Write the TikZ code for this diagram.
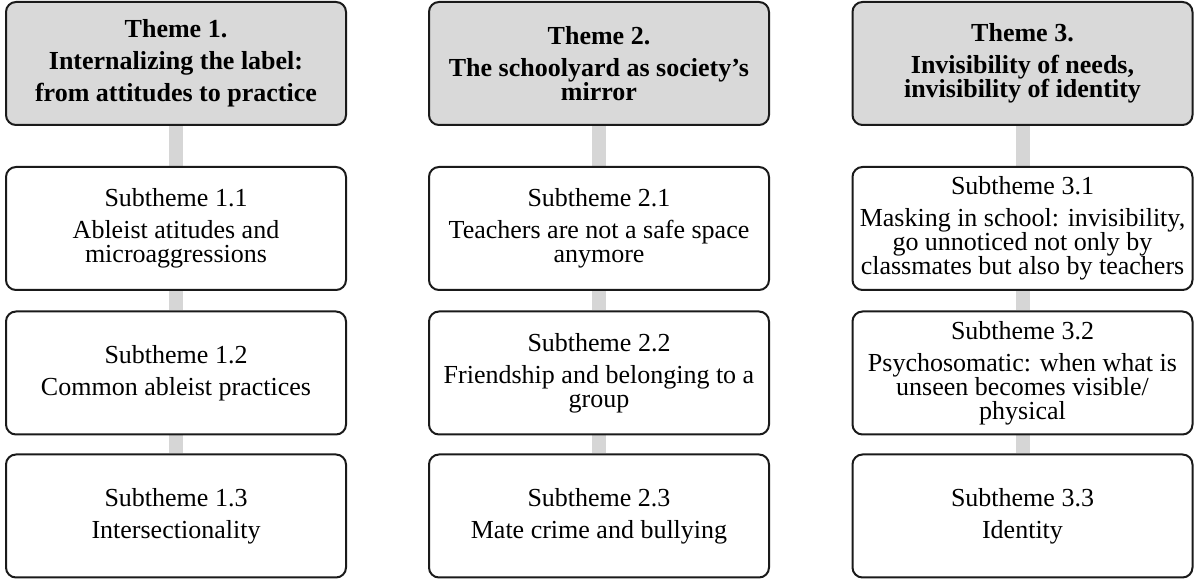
\documentclass[tikz,border=0pt]{standalone}
\usepackage{fontspec}
\setmainfont{Liberation Serif}
\usetikzlibrary{backgrounds}
\definecolor{boxgray}{HTML}{D9D9D9}
\definecolor{linkgray}{HTML}{D6D6D6}
\definecolor{edge}{HTML}{1A1A1A}
\begin{document}
\begin{tikzpicture}[x=0.5pt,y=-0.5pt,
  box/.style={draw=edge, line width=1pt, rounded corners=5pt,
    minimum width=170pt, minimum height=61.5pt, align=center, inner sep=0pt,
    fill=white, font=\fontsize{13}{12}\selectfont},
  themebox/.style={box, fill=boxgray, font=\fontsize{13}{12}\selectfont\bfseries},
  link/.style={draw=linkgray, line width=7pt}]
\useasboundingbox (0,0) rectangle (1200,582);
% column 1
\node[themebox] (t1) at (176,63.5) {Theme 1.\\[4pt]Internalizing the label:\\[3pt]from attitudes to practice};
\node[box] (s11) at (176,228.5) {Subtheme 1.1\\[4pt]Ableist atitudes and\\microaggressions};
\node[box] (s12) at (176,373) {Subtheme 1.2\\[4pt]Common ableist practices};
\node[box] (s13) at (176,516) {Subtheme 1.3\\[4pt]Intersectionality};
% column 2
\node[themebox] (t2) at (599,63.5) {Theme 2.\\[4pt]The schoolyard as society’s\\mirror};
\node[box] (s21) at (599,228.5) {Subtheme 2.1\\[4pt]Teachers are not a safe space\\anymore};
\node[box] (s22) at (599,373) {Subtheme 2.2\\[4pt]Friendship and belonging to a\\group};
\node[box] (s23) at (599,516) {Subtheme 2.3\\[4pt]Mate crime and bullying};
% column 3
\node[themebox] (t3) at (1022.5,63.5) {Theme 3.\\[4pt]Invisibility of needs,\\invisibility of identity};
\node[box] (s31) at (1022.5,228.5) {Subtheme 3.1\\[4pt]Masking in school: invisibility,\\go unnoticed not only by\\classmates but also by teachers};
\node[box] (s32) at (1022.5,373) {Subtheme 3.2\\[4pt]Psychosomatic: when what is\\unseen becomes visible/\\physical};
\node[box] (s33) at (1022.5,516) {Subtheme 3.3\\[4pt]Identity};
% connectors
\begin{scope}[on background layer]
\draw[link] (t1.south) -- (s11.north);
\draw[link] (s11.south) -- (s12.north);
\draw[link] (s12.south) -- (s13.north);
\draw[link] (t2.south) -- (s21.north);
\draw[link] (s21.south) -- (s22.north);
\draw[link] (s22.south) -- (s23.north);
\draw[link] (t3.south) -- (s31.north);
\draw[link] (s31.south) -- (s32.north);
\draw[link] (s32.south) -- (s33.north);
\end{scope}
\end{tikzpicture}
\end{document}
